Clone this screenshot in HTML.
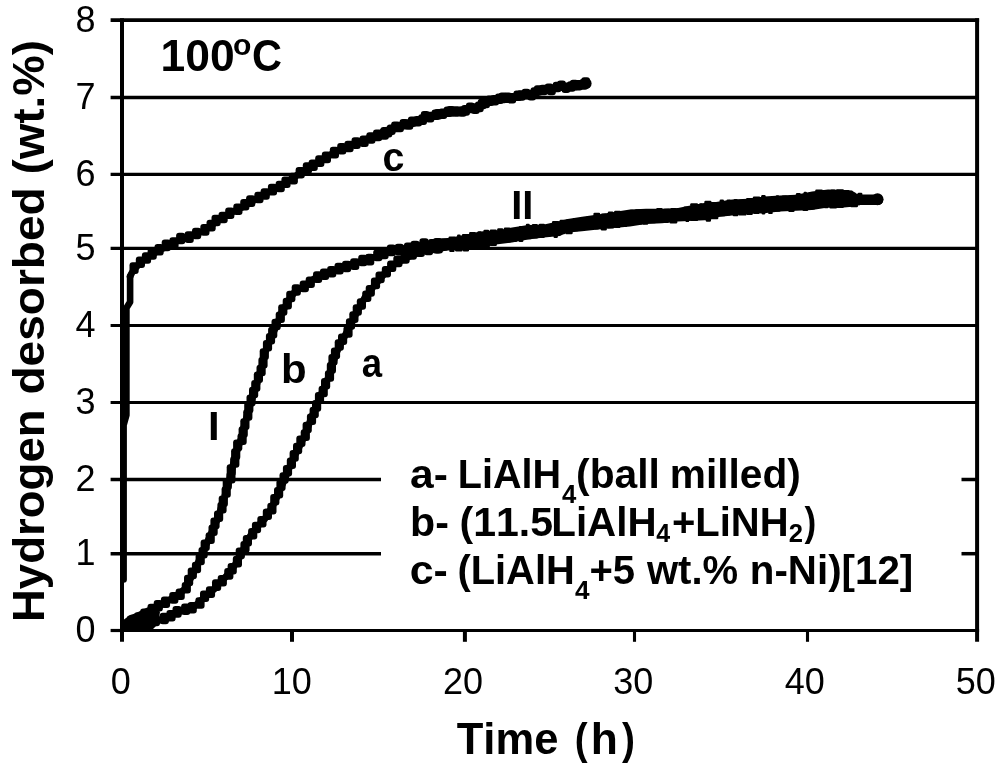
<!DOCTYPE html>
<html lang="en"><head><meta charset="utf-8"><title>Hydrogen desorbed vs time at 100 C</title>
<style>html,body{margin:0;padding:0;background:#fff;}body{width:1000px;height:773px;overflow:hidden;position:relative;}</style>
</head><body>
<svg width="1000" height="773" viewBox="0 0 1000 773" style="position:absolute;left:0;top:0;display:block">
<rect width="1000" height="773" fill="#fff"/>
<g stroke="#000" fill="none" shape-rendering="auto">
<line x1="110.6" y1="20.15" x2="979.1" y2="20.15" stroke-width="3.8"/>
<line x1="120" y1="630.55" x2="979.1" y2="630.55" stroke-width="3.1"/>
<line x1="122" y1="18.3" x2="122" y2="641.8" stroke-width="4"/>
<line x1="977.1" y1="18.3" x2="977.1" y2="641.8" stroke-width="4"/>
<line x1="110.6" y1="97.5" x2="977" y2="97.5" stroke-width="3.6"/>
<line x1="110.6" y1="174.4" x2="977" y2="174.4" stroke-width="3.1"/>
<line x1="110.6" y1="248.4" x2="977" y2="248.4" stroke-width="3.2"/>
<line x1="110.6" y1="325.5" x2="977" y2="325.5" stroke-width="3.2"/>
<line x1="110.6" y1="402.5" x2="977" y2="402.5" stroke-width="3.2"/>
<line x1="110.6" y1="630.5" x2="122" y2="630.5" stroke-width="3.2"/>
<line x1="110.6" y1="479.5" x2="381" y2="479.5" stroke-width="3.5"/>
<line x1="961.5" y1="479.5" x2="977" y2="479.5" stroke-width="3.5"/>
<line x1="110.6" y1="553.7" x2="381" y2="553.7" stroke-width="3.5"/>
<line x1="961.5" y1="553.7" x2="977" y2="553.7" stroke-width="3.5"/>
<line x1="292" y1="630.5" x2="292" y2="641.8" stroke-width="4"/>
<line x1="464.9" y1="630.5" x2="464.9" y2="641.8" stroke-width="4"/>
<line x1="634.5" y1="630.5" x2="634.5" y2="641.8" stroke-width="3.1"/>
<line x1="807.5" y1="630.5" x2="807.5" y2="641.8" stroke-width="3.1"/>
</g>
<defs><clipPath id="pc"><rect x="123" y="20" width="854" height="611.5"/></clipPath></defs><g clip-path="url(#pc)">
<polygon points="124,619.5 130,615 135,613.5 145,608.5 155,604 160,612 158,624 151,631 124,631" fill="#000"/>
<g stroke="#000" fill="none" stroke-linejoin="round" stroke-linecap="round">
<polyline points="123.6,579.5 123.6,425.0 126.4,415.0 126.4,308.0 130.1,302.0 130.1,276.5" stroke-width="6.6"/>
<polyline points="130.1,276.5 131.5,273.5 134.5,268.8 141.3,261.8 148.5,256.8 158.0,250.8 165.4,247.3 172.6,243.1 184.6,237.6 194.2,234.6 203.9,230.8 213.5,223.8 220.0,218.8 228.5,214.0 242.7,206.9 256.9,198.5 271.2,190.8 285.4,182.9 292.0,178.8 300.0,172.9 312.0,165.4 324.0,159.4 336.0,151.0 348.0,146.6 360.0,141.5 372.0,137.3 384.0,133.0 390.0,131.2 396.0,128.0 402.0,125.8 408.0,124.0 414.0,121.6 420.0,119.5 426.0,116.5 438.0,115.4 450.0,111.7 462.0,111.0 474.0,108.0 486.0,102.7 498.0,100.6 502.0,99.2 514.0,97.2 526.0,95.2 538.0,91.8 550.0,89.4 562.0,86.8 574.0,85.6 586.0,83.2" stroke-width="6.8"/>
<polyline points="124.0,625.0 131.0,620.5 135.0,619.0 145.0,614.5 155.0,609.0 165.0,602.5 175.0,596.8 185.0,588.8 193.5,573.0 199.0,560.5 206.0,545.0 211.5,533.0 215.0,524.0 218.0,518.8 221.0,508.0 224.8,496.0 229.6,479.5 234.2,460.0 237.8,448.0 242.2,436.0 243.7,428.0 247.0,416.0 250.9,402.5 256.3,386.0 259.6,374.0 263.2,362.0 264.3,354.0 269.5,342.0 276.4,325.5 282.0,312.0 289.0,300.0 295.0,291.6 304.0,286.2 316.0,277.5 325.0,274.0 335.0,270.2 346.0,265.8 358.0,262.2 370.0,258.6 382.0,254.4 392.0,251.0 406.0,248.0 422.0,245.0 438.0,243.0" stroke-width="6.8"/>
<polyline points="125.0,628.0 145.0,625.0 155.0,621.0 165.0,619.3 175.0,613.5 185.0,609.5 195.0,606.0 205.0,597.0 215.0,588.5 219.0,583.5 230.0,572.5 238.0,560.0 240.2,556.2 244.0,548.2 250.2,536.1 258.0,526.0 264.8,518.8 271.7,508.0 277.4,496.0 284.6,479.5 292.4,460.0 298.7,448.0 304.4,436.0 307.6,428.0 312.1,416.0 317.8,402.5 324.7,386.0 329.8,374.0 333.4,362.0 335.8,354.0 341.5,342.0 350.5,325.5 356.8,312.0 358.6,309.0 365.2,297.0 374.8,285.0 385.0,273.0 394.0,264.6 405.0,258.5 414.0,254.5 424.0,250.5 438.0,247.0" stroke-width="6.8"/>
</g>
<polygon points="438.0,238.5 448.0,238.0 464.0,235.0 480.0,231.5 496.0,230.5 512.0,227.5 528.0,225.0 544.0,224.5 560.0,221.0 566.0,219.2 582.0,216.8 598.0,214.4 614.0,212.0 630.0,209.6 646.0,208.8 662.0,208.8 678.0,208.0 694.0,204.8 710.0,202.0 716.0,202.0 732.0,199.6 748.0,198.8 764.0,196.4 780.0,195.6 796.0,194.8 812.0,191.5 828.0,189.5 844.0,190.0 852.0,190.5 856.0,193.5 860.0,194.3 860.0,205.3 856.0,205.8 852.0,206.8 844.0,207.6 828.0,207.6 812.0,210.0 796.0,210.8 780.0,211.6 764.0,213.2 748.0,214.0 732.0,215.6 716.0,217.2 710.0,220.0 694.0,220.8 678.0,221.6 662.0,223.2 646.0,224.0 630.0,226.4 614.0,228.0 598.0,229.6 582.0,231.2 566.0,232.8 560.0,236.0 544.0,237.6 528.0,239.5 512.0,242.5 496.0,244.5 480.0,248.5 464.0,250.0 448.0,250.5 438.0,252.0" fill="#000"/>
<g stroke="#000" fill="none" stroke-linejoin="round" stroke-linecap="round">
<polyline points="858,199.8 878,199.8" stroke-width="10.6"/>
</g>
<g fill="#000">
<rect x="129.5" y="262.3" width="9.2" height="11.6" rx="3"/><rect x="135.8" y="256.4" width="9.2" height="11.6" rx="3"/><rect x="141.9" y="252.2" width="9.2" height="11.6" rx="3"/><rect x="147.6" y="248.1" width="9.2" height="11.6" rx="3"/><rect x="154.5" y="243.9" width="9.2" height="11.6" rx="3"/><rect x="161.7" y="239.6" width="9.2" height="11.6" rx="3"/><rect x="169.4" y="237.2" width="9.2" height="11.6" rx="3"/><rect x="176.1" y="232.7" width="9.2" height="11.6" rx="3"/><rect x="184.6" y="231.3" width="9.2" height="11.6" rx="3"/><rect x="192.0" y="227.7" width="9.2" height="11.6" rx="3"/><rect x="200.3" y="224.1" width="9.2" height="11.6" rx="3"/><rect x="206.5" y="219.8" width="9.2" height="11.6" rx="3"/><rect x="211.5" y="214.7" width="9.2" height="11.6" rx="3"/><rect x="218.5" y="211.7" width="9.2" height="11.6" rx="3"/><rect x="225.2" y="207.4" width="9.2" height="11.6" rx="3"/><rect x="233.3" y="203.4" width="9.2" height="11.6" rx="3"/><rect x="240.2" y="199.0" width="9.2" height="11.6" rx="3"/><rect x="246.1" y="195.3" width="9.2" height="11.6" rx="3"/><rect x="254.3" y="191.7" width="9.2" height="11.6" rx="3"/><rect x="260.6" y="188.2" width="9.2" height="11.6" rx="3"/><rect x="267.9" y="183.8" width="9.2" height="11.6" rx="3"/><rect x="275.6" y="180.7" width="9.2" height="11.6" rx="3"/><rect x="281.4" y="176.5" width="9.2" height="11.6" rx="3"/><rect x="288.7" y="172.8" width="9.2" height="11.6" rx="3"/><rect x="295.6" y="166.9" width="9.2" height="11.6" rx="3"/><rect x="302.8" y="162.3" width="9.2" height="11.6" rx="3"/><rect x="308.6" y="159.5" width="9.2" height="11.6" rx="3"/><rect x="315.2" y="155.3" width="9.2" height="11.6" rx="3"/><rect x="321.8" y="151.6" width="9.2" height="11.6" rx="3"/><rect x="329.8" y="146.8" width="9.2" height="11.6" rx="3"/><rect x="337.2" y="143.0" width="9.2" height="11.6" rx="3"/><rect x="344.4" y="140.7" width="9.2" height="11.6" rx="3"/><rect x="351.5" y="137.3" width="9.2" height="11.6" rx="3"/><rect x="359.5" y="135.4" width="9.2" height="11.6" rx="3"/><rect x="366.3" y="132.2" width="9.2" height="11.6" rx="3"/><rect x="373.0" y="129.6" width="9.2" height="11.6" rx="3"/><rect x="379.7" y="128.2" width="9.2" height="11.6" rx="3"/>
<rect x="380.4" y="127.1" width="8.8" height="10.6" rx="3"/><rect x="383.6" y="126.8" width="8.8" height="10.6" rx="3"/><rect x="386.8" y="124.5" width="8.8" height="10.6" rx="3"/><rect x="391.1" y="121.6" width="8.8" height="10.6" rx="3"/><rect x="395.1" y="121.7" width="8.8" height="10.6" rx="3"/><rect x="399.6" y="119.0" width="8.8" height="10.6" rx="3"/><rect x="404.5" y="119.2" width="8.8" height="10.6" rx="3"/><rect x="407.9" y="116.4" width="8.8" height="10.6" rx="3"/><rect x="413.3" y="116.0" width="8.8" height="10.6" rx="3"/><rect x="418.2" y="114.3" width="8.8" height="10.6" rx="3"/><rect x="420.8" y="111.1" width="8.8" height="10.6" rx="3"/><rect x="425.5" y="111.8" width="8.8" height="10.6" rx="3"/><rect x="431.5" y="109.5" width="8.8" height="10.6" rx="3"/><rect x="433.9" y="109.0" width="8.8" height="10.6" rx="3"/><rect x="438.4" y="108.4" width="8.8" height="10.6" rx="3"/><rect x="443.6" y="106.5" width="8.8" height="10.6" rx="3"/><rect x="446.5" y="106.1" width="8.8" height="10.6" rx="3"/><rect x="451.9" y="106.2" width="8.8" height="10.6" rx="3"/><rect x="457.9" y="106.2" width="8.8" height="10.6" rx="3"/><rect x="461.2" y="105.1" width="8.8" height="10.6" rx="3"/><rect x="465.9" y="102.6" width="8.8" height="10.6" rx="3"/><rect x="470.9" y="103.3" width="8.8" height="10.6" rx="3"/><rect x="474.9" y="101.6" width="8.8" height="10.6" rx="3"/><rect x="477.8" y="98.7" width="8.8" height="10.6" rx="3"/><rect x="481.2" y="97.6" width="8.8" height="10.6" rx="3"/><rect x="485.5" y="95.4" width="8.8" height="10.6" rx="3"/><rect x="490.3" y="94.9" width="8.8" height="10.6" rx="3"/><rect x="495.0" y="93.5" width="8.8" height="10.6" rx="3"/><rect x="498.5" y="92.6" width="8.8" height="10.6" rx="3"/><rect x="503.2" y="92.4" width="8.8" height="10.6" rx="3"/><rect x="507.4" y="93.0" width="8.8" height="10.6" rx="3"/><rect x="513.4" y="90.4" width="8.8" height="10.6" rx="3"/><rect x="516.9" y="90.2" width="8.8" height="10.6" rx="3"/><rect x="521.6" y="88.8" width="8.8" height="10.6" rx="3"/><rect x="527.2" y="89.8" width="8.8" height="10.6" rx="3"/><rect x="530.5" y="87.3" width="8.8" height="10.6" rx="3"/><rect x="533.9" y="85.2" width="8.8" height="10.6" rx="3"/><rect x="539.0" y="84.7" width="8.8" height="10.6" rx="3"/><rect x="544.7" y="83.6" width="8.8" height="10.6" rx="3"/><rect x="547.0" y="84.7" width="8.8" height="10.6" rx="3"/><rect x="552.7" y="81.7" width="8.8" height="10.6" rx="3"/><rect x="557.1" y="80.4" width="8.8" height="10.6" rx="3"/><rect x="561.6" y="82.4" width="8.8" height="10.6" rx="3"/><rect x="566.9" y="81.2" width="8.8" height="10.6" rx="3"/><rect x="569.8" y="79.8" width="8.8" height="10.6" rx="3"/><rect x="574.0" y="80.0" width="8.8" height="10.6" rx="3"/><rect x="579.3" y="79.1" width="8.8" height="10.6" rx="3"/><rect x="581.2" y="77.2" width="8.8" height="10.6" rx="3"/>
<rect x="120.0" y="620.2" width="9.2" height="11.6" rx="3"/><rect x="126.8" y="615.5" width="9.2" height="11.6" rx="3"/><rect x="134.1" y="612.3" width="9.2" height="11.6" rx="3"/><rect x="140.2" y="608.5" width="9.2" height="11.6" rx="3"/><rect x="147.5" y="603.7" width="9.2" height="11.6" rx="3"/><rect x="153.7" y="600.0" width="9.2" height="11.6" rx="3"/><rect x="160.9" y="596.5" width="9.2" height="11.6" rx="3"/><rect x="169.2" y="592.1" width="9.2" height="11.6" rx="3"/><rect x="175.6" y="588.5" width="9.2" height="11.6" rx="3"/><rect x="181.7" y="582.0" width="9.2" height="11.6" rx="3"/><rect x="184.0" y="574.7" width="9.2" height="11.6" rx="3"/><rect x="187.7" y="567.6" width="9.2" height="11.6" rx="3"/><rect x="191.9" y="561.7" width="9.2" height="11.6" rx="3"/><rect x="195.6" y="553.6" width="9.2" height="11.6" rx="3"/><rect x="198.5" y="546.9" width="9.2" height="11.6" rx="3"/><rect x="200.6" y="539.4" width="9.2" height="11.6" rx="3"/><rect x="205.6" y="532.3" width="9.2" height="11.6" rx="3"/><rect x="208.5" y="524.4" width="9.2" height="11.6" rx="3"/><rect x="210.4" y="517.6" width="9.2" height="11.6" rx="3"/><rect x="214.0" y="510.4" width="9.2" height="11.6" rx="3"/><rect x="217.4" y="501.9" width="9.2" height="11.6" rx="3"/><rect x="218.7" y="495.4" width="9.2" height="11.6" rx="3"/><rect x="221.6" y="486.2" width="9.2" height="11.6" rx="3"/><rect x="222.7" y="478.4" width="9.2" height="11.6" rx="3"/><rect x="226.3" y="472.0" width="9.2" height="11.6" rx="3"/><rect x="226.7" y="464.3" width="9.2" height="11.6" rx="3"/><rect x="230.2" y="456.2" width="9.2" height="11.6" rx="3"/><rect x="231.1" y="448.3" width="9.2" height="11.6" rx="3"/><rect x="233.1" y="439.6" width="9.2" height="11.6" rx="3"/><rect x="237.5" y="433.3" width="9.2" height="11.6" rx="3"/><rect x="238.6" y="426.2" width="9.2" height="11.6" rx="3"/><rect x="240.3" y="418.3" width="9.2" height="11.6" rx="3"/><rect x="243.2" y="409.2" width="9.2" height="11.6" rx="3"/><rect x="244.2" y="401.7" width="9.2" height="11.6" rx="3"/><rect x="246.5" y="394.6" width="9.2" height="11.6" rx="3"/><rect x="249.0" y="386.7" width="9.2" height="11.6" rx="3"/><rect x="251.2" y="380.1" width="9.2" height="11.6" rx="3"/><rect x="253.8" y="371.4" width="9.2" height="11.6" rx="3"/><rect x="256.5" y="364.7" width="9.2" height="11.6" rx="3"/><rect x="258.4" y="357.0" width="9.2" height="11.6" rx="3"/><rect x="259.7" y="348.3" width="9.2" height="11.6" rx="3"/><rect x="262.9" y="339.9" width="9.2" height="11.6" rx="3"/><rect x="265.9" y="332.9" width="9.2" height="11.6" rx="3"/><rect x="268.1" y="326.8" width="9.2" height="11.6" rx="3"/><rect x="271.5" y="318.7" width="9.2" height="11.6" rx="3"/><rect x="275.7" y="311.5" width="9.2" height="11.6" rx="3"/><rect x="278.2" y="304.2" width="9.2" height="11.6" rx="3"/><rect x="282.7" y="297.8" width="9.2" height="11.6" rx="3"/><rect x="286.2" y="290.7" width="9.2" height="11.6" rx="3"/><rect x="291.7" y="284.2" width="9.2" height="11.6" rx="3"/><rect x="299.7" y="280.6" width="9.2" height="11.6" rx="3"/><rect x="305.7" y="276.4" width="9.2" height="11.6" rx="3"/><rect x="313.0" y="271.3" width="9.2" height="11.6" rx="3"/><rect x="319.9" y="268.5" width="9.2" height="11.6" rx="3"/><rect x="327.1" y="266.0" width="9.2" height="11.6" rx="3"/><rect x="334.5" y="262.8" width="9.2" height="11.6" rx="3"/><rect x="342.0" y="260.7" width="9.2" height="11.6" rx="3"/><rect x="350.1" y="258.3" width="9.2" height="11.6" rx="3"/><rect x="358.2" y="254.7" width="9.2" height="11.6" rx="3"/><rect x="365.1" y="253.8" width="9.2" height="11.6" rx="3"/><rect x="373.2" y="249.6" width="9.2" height="11.6" rx="3"/><rect x="379.4" y="247.6" width="9.2" height="11.6" rx="3"/><rect x="386.8" y="244.6" width="9.2" height="11.6" rx="3"/><rect x="394.7" y="243.8" width="9.2" height="11.6" rx="3"/><rect x="403.9" y="242.6" width="9.2" height="11.6" rx="3"/><rect x="410.5" y="240.8" width="9.2" height="11.6" rx="3"/><rect x="419.4" y="238.3" width="9.2" height="11.6" rx="3"/><rect x="427.8" y="238.9" width="9.2" height="11.6" rx="3"/><rect x="432.8" y="238.1" width="9.2" height="11.6" rx="3"/>
<rect x="120.2" y="622.2" width="9.2" height="11.6" rx="3"/><rect x="129.3" y="621.7" width="9.2" height="11.6" rx="3"/><rect x="135.5" y="619.7" width="9.2" height="11.6" rx="3"/><rect x="143.9" y="617.5" width="9.2" height="11.6" rx="3"/><rect x="150.8" y="614.7" width="9.2" height="11.6" rx="3"/><rect x="159.7" y="612.7" width="9.2" height="11.6" rx="3"/><rect x="166.4" y="609.9" width="9.2" height="11.6" rx="3"/><rect x="172.5" y="606.1" width="9.2" height="11.6" rx="3"/><rect x="181.1" y="603.5" width="9.2" height="11.6" rx="3"/><rect x="187.6" y="601.9" width="9.2" height="11.6" rx="3"/><rect x="195.4" y="597.2" width="9.2" height="11.6" rx="3"/><rect x="200.0" y="590.4" width="9.2" height="11.6" rx="3"/><rect x="205.9" y="586.3" width="9.2" height="11.6" rx="3"/><rect x="212.0" y="579.3" width="9.2" height="11.6" rx="3"/><rect x="217.7" y="575.0" width="9.2" height="11.6" rx="3"/><rect x="224.2" y="568.1" width="9.2" height="11.6" rx="3"/><rect x="227.6" y="563.0" width="9.2" height="11.6" rx="3"/><rect x="232.8" y="555.8" width="9.2" height="11.6" rx="3"/><rect x="235.7" y="547.6" width="9.2" height="11.6" rx="3"/><rect x="240.4" y="541.1" width="9.2" height="11.6" rx="3"/><rect x="242.8" y="535.0" width="9.2" height="11.6" rx="3"/><rect x="248.1" y="528.0" width="9.2" height="11.6" rx="3"/><rect x="251.9" y="521.7" width="9.2" height="11.6" rx="3"/><rect x="257.3" y="515.9" width="9.2" height="11.6" rx="3"/><rect x="262.8" y="508.4" width="9.2" height="11.6" rx="3"/><rect x="267.3" y="502.8" width="9.2" height="11.6" rx="3"/><rect x="270.2" y="494.0" width="9.2" height="11.6" rx="3"/><rect x="274.0" y="487.0" width="9.2" height="11.6" rx="3"/><rect x="276.4" y="479.5" width="9.2" height="11.6" rx="3"/><rect x="279.5" y="472.2" width="9.2" height="11.6" rx="3"/><rect x="282.9" y="465.0" width="9.2" height="11.6" rx="3"/><rect x="286.8" y="457.5" width="9.2" height="11.6" rx="3"/><rect x="289.6" y="450.1" width="9.2" height="11.6" rx="3"/><rect x="293.0" y="442.7" width="9.2" height="11.6" rx="3"/><rect x="296.3" y="435.5" width="9.2" height="11.6" rx="3"/><rect x="300.7" y="429.3" width="9.2" height="11.6" rx="3"/><rect x="302.6" y="421.7" width="9.2" height="11.6" rx="3"/><rect x="306.9" y="413.5" width="9.2" height="11.6" rx="3"/><rect x="309.6" y="406.7" width="9.2" height="11.6" rx="3"/><rect x="312.0" y="400.1" width="9.2" height="11.6" rx="3"/><rect x="314.9" y="392.1" width="9.2" height="11.6" rx="3"/><rect x="318.6" y="385.7" width="9.2" height="11.6" rx="3"/><rect x="321.0" y="378.0" width="9.2" height="11.6" rx="3"/><rect x="324.9" y="370.2" width="9.2" height="11.6" rx="3"/><rect x="326.8" y="362.1" width="9.2" height="11.6" rx="3"/><rect x="328.4" y="354.0" width="9.2" height="11.6" rx="3"/><rect x="330.9" y="347.6" width="9.2" height="11.6" rx="3"/><rect x="334.7" y="339.2" width="9.2" height="11.6" rx="3"/><rect x="338.0" y="333.4" width="9.2" height="11.6" rx="3"/><rect x="343.4" y="326.1" width="9.2" height="11.6" rx="3"/><rect x="345.9" y="318.2" width="9.2" height="11.6" rx="3"/><rect x="349.3" y="311.3" width="9.2" height="11.6" rx="3"/><rect x="352.7" y="304.2" width="9.2" height="11.6" rx="3"/><rect x="356.8" y="298.2" width="9.2" height="11.6" rx="3"/><rect x="362.2" y="290.5" width="9.2" height="11.6" rx="3"/><rect x="365.7" y="285.1" width="9.2" height="11.6" rx="3"/><rect x="370.9" y="277.6" width="9.2" height="11.6" rx="3"/><rect x="375.5" y="271.6" width="9.2" height="11.6" rx="3"/><rect x="381.8" y="265.9" width="9.2" height="11.6" rx="3"/><rect x="387.1" y="260.4" width="9.2" height="11.6" rx="3"/><rect x="393.3" y="255.6" width="9.2" height="11.6" rx="3"/><rect x="400.5" y="252.1" width="9.2" height="11.6" rx="3"/><rect x="407.7" y="248.1" width="9.2" height="11.6" rx="3"/><rect x="415.7" y="245.5" width="9.2" height="11.6" rx="3"/><rect x="423.9" y="243.7" width="9.2" height="11.6" rx="3"/><rect x="432.0" y="242.0" width="9.2" height="11.6" rx="3"/><rect x="433.8" y="242.0" width="9.2" height="11.6" rx="3"/>
<rect x="435.4" y="238.6" width="5.3" height="5.0" rx="1.2"/><rect x="441.0" y="238.7" width="7.9" height="5.0" rx="1.2"/><rect x="448.5" y="236.5" width="6.8" height="5.0" rx="1.2"/><rect x="457.0" y="234.6" width="3.7" height="5.0" rx="1.2"/><rect x="461.9" y="233.9" width="7.5" height="5.0" rx="1.2"/><rect x="469.1" y="231.9" width="6.8" height="5.0" rx="1.2"/><rect x="477.3" y="231.2" width="4.1" height="5.0" rx="1.2"/><rect x="483.4" y="229.8" width="5.8" height="5.0" rx="1.2"/><rect x="489.7" y="229.4" width="7.1" height="5.0" rx="1.2"/><rect x="497.2" y="228.2" width="6.1" height="5.0" rx="1.2"/><rect x="503.8" y="227.5" width="6.6" height="5.0" rx="1.2"/><rect x="511.7" y="228.1" width="4.5" height="5.0" rx="1.2"/><rect x="518.9" y="226.1" width="4.1" height="5.0" rx="1.2"/><rect x="525.8" y="223.7" width="4.0" height="5.0" rx="1.2"/><rect x="531.8" y="224.0" width="6.0" height="5.0" rx="1.2"/><rect x="538.7" y="223.7" width="6.3" height="5.0" rx="1.2"/><rect x="545.9" y="224.5" width="5.7" height="5.0" rx="1.2"/><rect x="552.0" y="220.9" width="7.1" height="5.0" rx="1.2"/><rect x="559.5" y="219.8" width="5.8" height="5.0" rx="1.2"/><rect x="565.9" y="219.5" width="6.5" height="5.0" rx="1.2"/><rect x="572.7" y="218.0" width="6.8" height="5.0" rx="1.2"/><rect x="581.1" y="216.9" width="3.8" height="5.0" rx="1.2"/><rect x="586.5" y="216.0" width="6.8" height="5.0" rx="1.2"/><rect x="593.4" y="212.8" width="6.8" height="5.0" rx="1.2"/><rect x="600.9" y="213.5" width="5.7" height="5.0" rx="1.2"/><rect x="607.8" y="211.6" width="5.7" height="5.0" rx="1.2"/><rect x="614.1" y="210.7" width="7.0" height="5.0" rx="1.2"/><rect x="621.3" y="211.2" width="6.4" height="5.0" rx="1.2"/><rect x="629.4" y="209.8" width="4.2" height="5.0" rx="1.2"/><rect x="635.0" y="209.3" width="6.8" height="5.0" rx="1.2"/><rect x="642.4" y="209.8" width="6.1" height="5.0" rx="1.2"/><rect x="650.6" y="209.0" width="3.8" height="5.0" rx="1.2"/><rect x="656.2" y="207.9" width="6.5" height="5.0" rx="1.2"/><rect x="663.2" y="208.8" width="6.5" height="5.0" rx="1.2"/><rect x="670.5" y="207.9" width="5.8" height="5.0" rx="1.2"/><rect x="677.6" y="208.2" width="5.6" height="5.0" rx="1.2"/><rect x="683.5" y="206.6" width="7.5" height="5.0" rx="1.2"/><rect x="690.2" y="203.2" width="7.9" height="5.0" rx="1.2"/><rect x="699.2" y="203.3" width="3.6" height="5.0" rx="1.2"/><rect x="704.3" y="200.7" width="7.2" height="5.0" rx="1.2"/><rect x="712.1" y="202.2" width="5.5" height="5.0" rx="1.2"/><rect x="719.6" y="199.5" width="4.4" height="5.0" rx="1.2"/><rect x="726.5" y="199.5" width="4.4" height="5.0" rx="1.2"/><rect x="733.6" y="198.9" width="4.1" height="5.0" rx="1.2"/><rect x="738.8" y="199.7" width="7.8" height="5.0" rx="1.2"/><rect x="746.0" y="198.1" width="7.2" height="5.0" rx="1.2"/><rect x="752.8" y="196.5" width="7.5" height="5.0" rx="1.2"/><rect x="761.2" y="195.0" width="4.5" height="5.0" rx="1.2"/><rect x="767.6" y="197.0" width="5.7" height="5.0" rx="1.2"/><rect x="775.7" y="195.3" width="3.5" height="5.0" rx="1.2"/><rect x="781.7" y="195.5" width="5.5" height="5.0" rx="1.2"/><rect x="789.4" y="195.1" width="4.1" height="5.0" rx="1.2"/><rect x="795.9" y="193.0" width="4.9" height="5.0" rx="1.2"/><rect x="803.5" y="191.8" width="3.5" height="5.0" rx="1.2"/><rect x="808.5" y="192.2" width="7.3" height="5.0" rx="1.2"/><rect x="815.2" y="189.6" width="7.7" height="5.0" rx="1.2"/><rect x="822.2" y="189.9" width="7.6" height="5.0" rx="1.2"/><rect x="830.4" y="189.6" width="5.2" height="5.0" rx="1.2"/><rect x="836.0" y="189.2" width="8.0" height="5.0" rx="1.2"/><rect x="844.4" y="190.0" width="5.1" height="5.0" rx="1.2"/><rect x="851.2" y="192.5" width="4.7" height="5.0" rx="1.2"/><rect x="857.9" y="192.9" width="4.0" height="5.0" rx="1.2"/><rect x="857.6" y="192.7" width="4.8" height="5.0" rx="1.2"/>
<rect x="435.7" y="246.7" width="4.6" height="5.0" rx="1.2"/><rect x="442.0" y="245.5" width="5.8" height="5.0" rx="1.2"/><rect x="449.3" y="247.1" width="5.2" height="5.0" rx="1.2"/><rect x="455.1" y="246.4" width="7.5" height="5.0" rx="1.2"/><rect x="462.7" y="246.4" width="6.3" height="5.0" rx="1.2"/><rect x="469.0" y="244.7" width="7.7" height="5.0" rx="1.2"/><rect x="476.4" y="242.7" width="6.7" height="5.0" rx="1.2"/><rect x="483.2" y="242.1" width="6.8" height="5.0" rx="1.2"/><rect x="490.0" y="241.0" width="6.9" height="5.0" rx="1.2"/><rect x="497.9" y="238.1" width="4.8" height="5.0" rx="1.2"/><rect x="503.4" y="237.5" width="7.7" height="5.0" rx="1.2"/><rect x="511.3" y="237.1" width="5.6" height="5.0" rx="1.2"/><rect x="518.6" y="236.9" width="4.8" height="5.0" rx="1.2"/><rect x="524.0" y="234.2" width="7.9" height="5.0" rx="1.2"/><rect x="531.6" y="233.5" width="6.5" height="5.0" rx="1.2"/><rect x="538.8" y="233.0" width="6.0" height="5.0" rx="1.2"/><rect x="546.7" y="231.6" width="4.3" height="5.0" rx="1.2"/><rect x="553.5" y="233.0" width="4.4" height="5.0" rx="1.2"/><rect x="559.5" y="229.3" width="5.7" height="5.0" rx="1.2"/><rect x="565.1" y="229.3" width="7.6" height="5.0" rx="1.2"/><rect x="573.1" y="226.2" width="5.5" height="5.0" rx="1.2"/><rect x="580.7" y="225.4" width="4.4" height="5.0" rx="1.2"/><rect x="587.3" y="224.7" width="5.0" height="5.0" rx="1.2"/><rect x="594.5" y="224.4" width="4.6" height="5.0" rx="1.2"/><rect x="600.7" y="225.5" width="6.1" height="5.0" rx="1.2"/><rect x="607.3" y="223.5" width="6.9" height="5.0" rx="1.2"/><rect x="615.0" y="223.1" width="5.4" height="5.0" rx="1.2"/><rect x="622.0" y="221.9" width="5.2" height="5.0" rx="1.2"/><rect x="629.7" y="220.9" width="3.8" height="5.0" rx="1.2"/><rect x="634.6" y="219.5" width="7.9" height="5.0" rx="1.2"/><rect x="642.5" y="219.8" width="5.8" height="5.0" rx="1.2"/><rect x="648.7" y="218.3" width="7.4" height="5.0" rx="1.2"/><rect x="657.0" y="218.0" width="4.7" height="5.0" rx="1.2"/><rect x="663.7" y="218.0" width="5.3" height="5.0" rx="1.2"/><rect x="669.5" y="218.4" width="7.8" height="5.0" rx="1.2"/><rect x="676.6" y="215.5" width="7.4" height="5.0" rx="1.2"/><rect x="685.5" y="217.1" width="3.6" height="5.0" rx="1.2"/><rect x="690.5" y="216.1" width="7.5" height="5.0" rx="1.2"/><rect x="698.2" y="214.4" width="6.1" height="5.0" rx="1.2"/><rect x="705.7" y="216.7" width="5.3" height="5.0" rx="1.2"/><rect x="711.2" y="214.2" width="7.2" height="5.0" rx="1.2"/><rect x="717.7" y="211.3" width="7.9" height="5.0" rx="1.2"/><rect x="726.6" y="210.4" width="4.0" height="5.0" rx="1.2"/><rect x="732.6" y="211.2" width="5.9" height="5.0" rx="1.2"/><rect x="738.7" y="210.6" width="7.7" height="5.0" rx="1.2"/><rect x="746.3" y="210.1" width="6.4" height="5.0" rx="1.2"/><rect x="753.7" y="209.1" width="5.6" height="5.0" rx="1.2"/><rect x="761.6" y="209.4" width="3.7" height="5.0" rx="1.2"/><rect x="768.2" y="209.1" width="4.5" height="5.0" rx="1.2"/><rect x="774.2" y="206.7" width="6.4" height="5.0" rx="1.2"/><rect x="782.4" y="206.1" width="4.1" height="5.0" rx="1.2"/><rect x="788.2" y="207.0" width="6.4" height="5.0" rx="1.2"/><rect x="796.4" y="204.9" width="4.0" height="5.0" rx="1.2"/><rect x="802.4" y="206.0" width="5.9" height="5.0" rx="1.2"/><rect x="809.7" y="204.6" width="5.2" height="5.0" rx="1.2"/><rect x="816.2" y="202.9" width="6.2" height="5.0" rx="1.2"/><rect x="823.8" y="203.2" width="4.9" height="5.0" rx="1.2"/><rect x="829.3" y="203.4" width="7.8" height="5.0" rx="1.2"/><rect x="836.4" y="202.9" width="7.5" height="5.0" rx="1.2"/><rect x="844.9" y="202.0" width="4.6" height="5.0" rx="1.2"/><rect x="850.2" y="202.3" width="7.8" height="5.0" rx="1.2"/><rect x="857.6" y="199.4" width="4.9" height="5.0" rx="1.2"/>
<circle cx="586" cy="83.5" r="5.6"/><circle cx="877.5" cy="199.3" r="6"/>
</g>
</g>
<g font-family="Liberation Sans, sans-serif" fill="#000" style="font-kerning:none">
<text x="95.6" y="642.0" font-size="36" text-anchor="end">0</text>
<text x="95.6" y="565.2" font-size="36" text-anchor="end">1</text>
<text x="95.6" y="491.0" font-size="36" text-anchor="end">2</text>
<text x="95.6" y="414.0" font-size="36" text-anchor="end">3</text>
<text x="95.6" y="337.0" font-size="36" text-anchor="end">4</text>
<text x="95.6" y="259.9" font-size="36" text-anchor="end">5</text>
<text x="95.6" y="185.9" font-size="36" text-anchor="end">6</text>
<text x="95.6" y="109.0" font-size="36" text-anchor="end">7</text>
<text x="95.6" y="31.7" font-size="36" text-anchor="end">8</text>
<text x="120.8" y="693.6" font-size="36" text-anchor="middle">0</text>
<text x="291.8" y="693.6" font-size="36" text-anchor="middle">10</text>
<text x="463.1" y="693.6" font-size="36" text-anchor="middle">20</text>
<text x="633.3" y="693.6" font-size="36" text-anchor="middle">30</text>
<text x="804.8" y="693.6" font-size="36" text-anchor="middle">40</text>
<text x="975.8" y="693.6" font-size="36" text-anchor="middle">50</text>
<text font-weight="bold"><tspan x="160.49" y="71.4" font-size="45" textLength="74.14" lengthAdjust="spacingAndGlyphs">100</tspan><tspan x="233.13" y="55.2" font-size="29.6" textLength="18.37" lengthAdjust="spacingAndGlyphs">o</tspan><tspan x="251.99" y="71.4" font-size="45" textLength="29.97" lengthAdjust="spacingAndGlyphs">C</tspan></text>
<text font-weight="bold"><tspan x="456.72" y="753.9" font-size="45" textLength="101.67" lengthAdjust="spacingAndGlyphs">Time</tspan> <tspan x="574.87" y="753.9" font-size="45" textLength="12.84" lengthAdjust="spacingAndGlyphs">(</tspan><tspan x="590.80" y="753.9" font-size="45" textLength="27.12" lengthAdjust="spacingAndGlyphs">h</tspan><tspan x="621.98" y="753.9" font-size="45" textLength="12.96" lengthAdjust="spacingAndGlyphs">)</tspan></text>
<text font-weight="bold"><tspan x="382.52" y="170.6" font-size="40" textLength="21.91" lengthAdjust="spacingAndGlyphs">c</tspan></text>
<text font-weight="bold"><tspan x="281.11" y="382.7" font-size="40" textLength="25.66" lengthAdjust="spacingAndGlyphs">b</tspan></text>
<text font-weight="bold"><tspan x="361.86" y="376.7" font-size="40" textLength="20.31" lengthAdjust="spacingAndGlyphs">a</tspan></text>
<text font-weight="bold"><tspan x="208.13" y="439.6" font-size="40" textLength="11.61" lengthAdjust="spacingAndGlyphs">I</tspan></text>
<text font-weight="bold"><tspan x="511.26" y="218.8" font-size="40" textLength="22.17" lengthAdjust="spacingAndGlyphs">II</tspan></text>
<text font-weight="bold"><tspan x="410.07" y="487.9" font-size="40" textLength="37.81" lengthAdjust="spacingAndGlyphs">a-</tspan> <tspan x="457.78" y="487.9" font-size="40" textLength="103.28" lengthAdjust="spacingAndGlyphs">LiAlH</tspan><tspan x="561.91" y="503.3" font-size="26" textLength="14.31" lengthAdjust="spacingAndGlyphs">4</tspan><tspan x="576.06" y="487.9" font-size="40" textLength="83.83" lengthAdjust="spacingAndGlyphs">(ball</tspan> <tspan x="669.80" y="487.9" font-size="40" textLength="131.03" lengthAdjust="spacingAndGlyphs">milled)</tspan></text>
<text font-weight="bold"><tspan x="409.97" y="535.7" font-size="40" textLength="38.89" lengthAdjust="spacingAndGlyphs">b-</tspan> <tspan x="459.55" y="535.7" font-size="40" textLength="93.45" lengthAdjust="spacingAndGlyphs">(11.5</tspan><tspan x="551.23" y="535.7" font-size="40" textLength="105.39" lengthAdjust="spacingAndGlyphs">LiAlH</tspan><tspan x="656.32" y="541.9" font-size="26" textLength="13.89" lengthAdjust="spacingAndGlyphs">4</tspan><tspan x="671.95" y="535.7" font-size="40" textLength="116.64" lengthAdjust="spacingAndGlyphs">+LiNH</tspan><tspan x="788.72" y="541.9" font-size="26" textLength="14.24" lengthAdjust="spacingAndGlyphs">2</tspan><tspan x="804.60" y="535.7" font-size="40" textLength="11.73" lengthAdjust="spacingAndGlyphs">)</tspan></text>
<text font-weight="bold"><tspan x="409.79" y="583.6" font-size="40" textLength="38.10" lengthAdjust="spacingAndGlyphs">c-</tspan> <tspan x="457.41" y="583.6" font-size="40" textLength="117.35" lengthAdjust="spacingAndGlyphs">(LiAlH</tspan><tspan x="574.90" y="599.4" font-size="26" textLength="14.52" lengthAdjust="spacingAndGlyphs">4</tspan><tspan x="589.45" y="583.6" font-size="40" textLength="45.66" lengthAdjust="spacingAndGlyphs">+5</tspan> <tspan x="647.00" y="583.6" font-size="40" textLength="91.12" lengthAdjust="spacingAndGlyphs">wt.%</tspan> <tspan x="749.83" y="583.6" font-size="40" textLength="163.41" lengthAdjust="spacingAndGlyphs">n-Ni)[12]</tspan></text>
<g transform="translate(44.2,622.3) rotate(-90)">
<text font-weight="bold"><tspan x="0.26" y="0" font-size="45" textLength="212.64" lengthAdjust="spacingAndGlyphs">Hydrogen</tspan> <tspan x="227.81" y="0" font-size="45" textLength="207.10" lengthAdjust="spacingAndGlyphs">desorbed</tspan> <tspan x="448.12" y="0" font-size="45" textLength="134.04" lengthAdjust="spacingAndGlyphs">(wt.%)</tspan></text>
</g>
</g>
</svg>
</body></html>
